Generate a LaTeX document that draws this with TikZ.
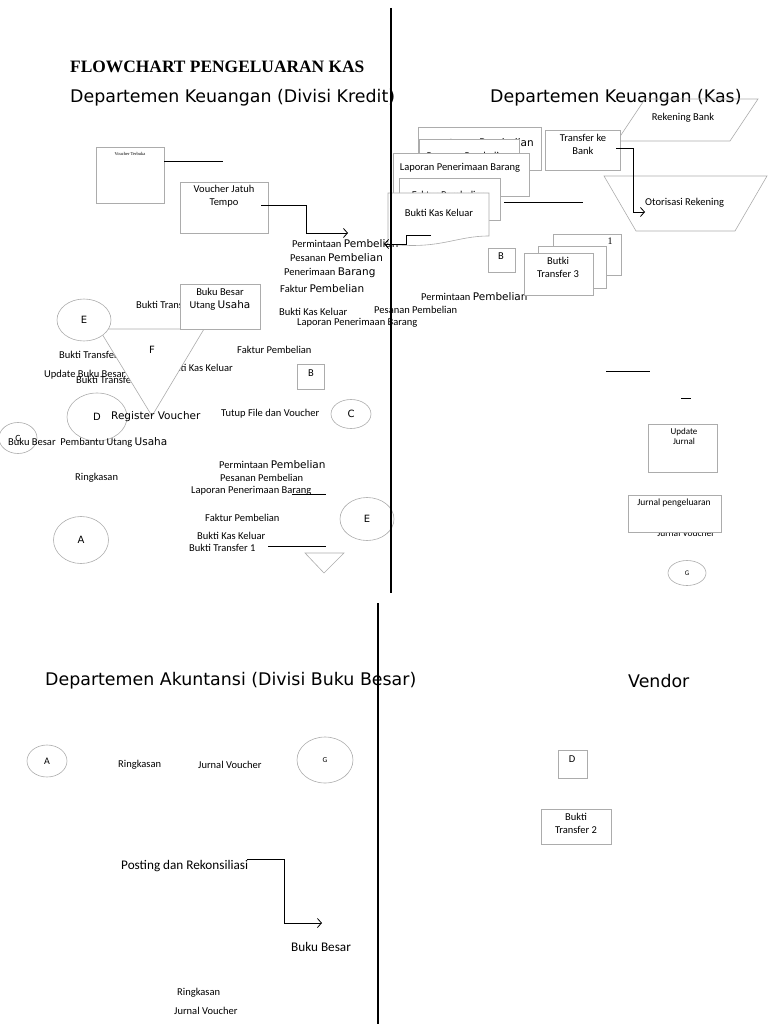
\documentclass[tikz,border=0pt]{standalone}
\usepackage{fontspec}
\setmainfont{Carlito}
\newfontfamily\dvfont{DejaVu Sans}
\newfontfamily\serfont{Liberation Serif}
\usetikzlibrary{shapes.geometric,arrows.meta}
\newcommand{\lgw}[1]{{\dvfont\fontsize{10.5}{12}\selectfont #1}}
\tikzset{
  txt/.style={inner sep=0pt, font=\fontsize{10.5}{13}\selectfont},
  hdr/.style={inner sep=0pt, font=\dvfont\fontsize{17.4}{20}\selectfont},
  box/.style={draw=gray!65, fill=white, line width=0.6pt, inner sep=0pt},
  oval/.style={ellipse, draw=gray!65, line width=0.6pt, inner sep=0pt, font=\dvfont\fontsize{10}{11}\selectfont},
  flow/.style={->, line width=0.8pt},
  lane/.style={line width=2.8pt},
  >={Straight Barb[length=4pt,width=9pt]}
}
\begin{document}
\begin{tikzpicture}[x=1pt,y=-1pt]
\useasboundingbox (0,0) rectangle (768,1024);
% titles
\node[inner sep=0pt, right, font=\serfont\bfseries\fontsize{17.4}{20}\selectfont] (ttl) at (70,67) {FLOWCHART PENGELUARAN KAS};
\node[hdr, right] (hKredit) at (70,98) {Departemen Keuangan (Divisi Kredit)};
\node[hdr, right] (hKas) at (490,98) {Departemen Keuangan (Kas)};
\node[hdr, right] (hAkun) at (45,681) {Departemen Akuntansi (Divisi Buku Besar)};
\node[hdr, right] (hVendor) at (628,681) {Vendor};

% --- divisi kredit
\node[box, minimum width=68, minimum height=56] (vTerbuka) at (130,175) {};
\node[inner sep=0pt, font=\serfont\fontsize{4.5}{5}\selectfont] at (130,154) {Voucher Terbuka};
\coordinate (vtOut) at (164,161);
\coordinate (vtEnd) at (223,161);
\draw[line width=0.8pt] (vtOut) -- (vtEnd);
\node[box, minimum width=88, minimum height=51] (vJatuh) at (224,207.5) {};
\node[txt, align=center] at (224,196.5) {Voucher Jatuh\\Tempo};
\coordinate (vjOut) at (261,205);
\coordinate (vjBend) at (306,233);
\coordinate (vjEnd) at (348,233);
\draw[flow] (vjOut) -| (vjBend) -- (vjEnd);

\node[txt, right] at (292,244) {Permintaan \lgw{Pembelian}};
\node[txt, right] at (290,258) {Pesanan \lgw{Pembelian}};
\node[txt, right] at (284,273) {Penerimaan \lgw{Barang}};
\node[txt, right] at (280,289) {Faktur \lgw{Pembelian}};
\node[txt, right] at (279,312) {Bukti Kas Keluar};
\node[txt, right] at (297,323) {Laporan Penerimaan Barang};
\node[txt, right] at (374,310) {Pesanan Pembelian};
\node[txt, right] at (421,297) {Permintaan \lgw{Pembelian}};

% file F
\node[txt, right] at (136,305) {Bukti Transfer};
\node[txt, right] at (59,355) {Bukti Transfer};
\node[txt, right] at (76,380) {Bukti Transfer};
\node[txt, left] at (233,368) {Bukti Kas Keluar};
\node[txt, right] at (44,375) {Update Buku Besar};
\coordinate (fL) at (99,329);
\coordinate (fR) at (204,329);
\coordinate (fB) at (152,416);
\draw[draw=gray!65, fill=white, line width=0.6pt] (fL) -- (fR) -- (fB) -- cycle;
\node[inner sep=0pt, font=\dvfont\fontsize{10}{11}\selectfont] (fileF) at (152,350) {F};
\node[oval, fill=white, minimum width=54, minimum height=42] (eTop) at (84,320) {E};
\node[box, minimum width=80, minimum height=45] (bbUtang) at (220,306.5) {};
\node[txt, align=center] at (220,299) {Buku Besar\\Utang \lgw{Usaha}};

\node[oval, minimum width=60, minimum height=48] (dReg) at (97,417) {D};
\node[inner sep=0pt, right, font=\dvfont\fontsize{10.5}{12}\selectfont] at (111,417) {Register Voucher};
\node[oval, minimum width=38, minimum height=31, font=\fontsize{9.5}{10}\selectfont] (cLeft) at (18,438) {C};
\node[txt, right] at (8,442) {Buku Besar~~Pembantu Utang \lgw{Usaha}};
\node[txt, right] at (75,478) {Ringkasan};
\node[oval, minimum width=55, minimum height=47] (aLeft) at (81,540) {A};

\node[txt, right] at (237,350) {Faktur Pembelian};
\node[box, minimum width=27, minimum height=25, font=\fontsize{9.5}{10}\selectfont] (bMid) at (310.5,376.5) {};
\node[txt] at (311,373) {B};
\node[txt, right] at (221,414) {Tutup File dan Voucher};
\node[oval, minimum width=40, minimum height=29] (cMid) at (351,414) {C};

\node[txt, right] at (219,465) {Permintaan \lgw{Pembelian}};
\node[txt, right] at (220,478) {Pesanan Pembelian};
\node[txt, right] at (191,491) {Laporan Penerimaan Barang};
\coordinate (lpA) at (292,494);
\coordinate (lpB) at (326,494);
\draw[line width=0.8pt] (lpA) -- (lpB);
\node[txt, right] at (205,518) {Faktur Pembelian};
\node[oval, minimum width=54, minimum height=43] (eBot) at (367,519) {E};
\node[txt, right] at (197,536) {Bukti Kas Keluar};
\node[txt, right] at (189,548) {Bukti Transfer 1};
\coordinate (btA) at (268,546);
\coordinate (btB) at (326,546);
\draw[line width=0.8pt] (btA) -- (btB);
\coordinate (tL) at (305,553);
\coordinate (tR) at (344,553);
\coordinate (tB) at (324,573);
\draw[draw=gray!65, line width=0.6pt] (tL) -- (tR) -- (tB) -- cycle;

% --- kas
\node[box, minimum width=123, minimum height=43] (docPP) at (479.5,148.5) {};
\node[txt, left] at (534,143) {Permintaan \lgw{Pembelian}};
\node[box, minimum width=100, minimum height=36] (docPs) at (469,157) {};
\node[txt] at (468,156) {Pesanan Pembelian};
\node[box, minimum width=136, minimum height=43] (docLp) at (461,174.5) {};
\node[txt] at (460,168) {Laporan Penerimaan Barang};
\node[box, minimum width=101, minimum height=42] (docFk) at (449.5,199) {};
\node[txt] at (449,195) {Faktur Pembelian};
\coordinate (bkTL) at (388,193);
\coordinate (bkTR) at (489,193);
\coordinate (bkBR) at (489,236);
\coordinate (bkBL) at (388,244);
\draw[draw=gray!65, fill=white, line width=0.6pt] (bkTL) -- (bkTR) -- (bkBR)
  .. controls (455,236) and (440,250) .. (bkBL) -- cycle;
\node[txt] (bkk) at (439,213) {Bukti Kas Keluar};
\coordinate (bkOut) at (431,235);
\coordinate (bkBend) at (406,244);
\coordinate (bkEnd) at (384,244);
\draw[flow] (bkOut) -| (bkBend) -- (bkEnd);
\coordinate (fkA) at (504,202);
\coordinate (fkB) at (583,202);
\draw[line width=0.8pt] (fkA) -- (fkB);

\coordinate (rbTL) at (645,99);
\coordinate (rbTR) at (758,99);
\coordinate (rbBR) at (730,141);
\coordinate (rbBL) at (617,141);
\draw[draw=gray!65, line width=0.6pt] (rbTL) -- (rbTR) -- (rbBR) -- (rbBL) -- cycle;
\node[txt] (rekBank) at (683,118) {Rekening Bank};
\node[box, minimum width=75, minimum height=40] (tfBank) at (582.5,150) {};
\node[txt, align=center] at (583,144) {Transfer ke\\Bank};
\coordinate (otTL) at (604,176);
\coordinate (otTR) at (767,176);
\coordinate (otBR) at (735,231);
\coordinate (otBL) at (636,231);
\draw[draw=gray!65, line width=0.6pt] (otTL) -- (otTR) -- (otBR) -- (otBL) -- cycle;
\node[txt, right] (otor) at (645,203) {Otorisasi Rekening};
\coordinate (tfOut) at (616,148);
\coordinate (tfBend) at (633,212);
\coordinate (tfEnd) at (645,212);
\draw[flow] (tfOut) -| (tfBend) -- (tfEnd);

\node[box, minimum width=27, minimum height=24] (bKas) at (501.5,260) {};
\node[txt] at (501,256) {B};
\node[box, minimum width=68, minimum height=41] (bt3c) at (587,254.5) {};
\node[inner sep=0pt, font=\serfont\fontsize{10}{11}\selectfont] at (610,241) {1};
\node[box, minimum width=68, minimum height=42] (bt3b) at (572,267) {};
\node[box, minimum width=69, minimum height=42] (bt3a) at (558.5,274) {};
\node[txt, align=center] at (558,267.5) {Butki\\Transfer 3};

\coordinate (kA) at (606,371);
\coordinate (kB) at (650,371);
\draw[line width=0.8pt] (kA) -- (kB);
\coordinate (kC) at (681,398);
\coordinate (kD) at (691,398);
\draw[line width=0.8pt] (kC) -- (kD);
\node[box, minimum width=69, minimum height=48] (upJurnal) at (682.5,448) {};
\node[txt, align=center, font=\fontsize{9}{10}\selectfont] at (684,436) {Update\\Jurnal};
\node[txt, font=\fontsize{9.5}{11}\selectfont] at (686,533) {Jurnal Voucher};
\node[box, minimum width=93, minimum height=37] (jPeng) at (674.5,513.5) {};
\node[txt, font=\fontsize{9.5}{11}\selectfont] at (674,503) {Jurnal pengeluaran};
\node[oval, minimum width=38, minimum height=25, font=\fontsize{7}{8}\selectfont] (gKas) at (687,573) {G};

% --- akuntansi / vendor
\node[oval, minimum width=40, minimum height=32, font=\fontsize{10}{11}\selectfont] (aBot) at (47,761) {A};
\node[txt, right] at (118,765) {Ringkasan};
\node[txt, right] at (198,765) {Jurnal Voucher};
\node[oval, minimum width=56, minimum height=46, font=\fontsize{7.5}{8}\selectfont] (gBot) at (325,760) {G};
\node[box, minimum width=29, minimum height=28] (dVendor) at (572.5,764) {};
\node[txt] at (572,759) {D};
\node[box, minimum width=70, minimum height=35] (bt2) at (576,826.5) {};
\node[txt, align=center] at (576,823) {Bukti\\Transfer 2};
\node[inner sep=0pt, right, font=\fontsize{13.2}{15}\selectfont] (posting) at (121,866) {Posting dan Rekonsiliasi};
\coordinate (poOut) at (247,859);
\coordinate (poBend) at (284,923);
\coordinate (poEnd) at (322,923);
\draw[flow] (poOut) -| (poBend) -- (poEnd);
\node[inner sep=0pt, right, font=\fontsize{13.2}{15}\selectfont] (bukuBesar) at (291,947) {Buku Besar};
\node[txt, right] at (177,993) {Ringkasan};
\node[txt, right] at (174,1011) {Jurnal Voucher};

% lane dividers
\coordinate (laneTopA) at (391,8);
\coordinate (laneTopB) at (391,593);
\coordinate (laneBotA) at (378,603);
\coordinate (laneBotB) at (378,1024);
\draw[lane] (laneTopA) -- (laneTopB);
\draw[lane] (laneBotA) -- (laneBotB);
\end{tikzpicture}
\end{document}
